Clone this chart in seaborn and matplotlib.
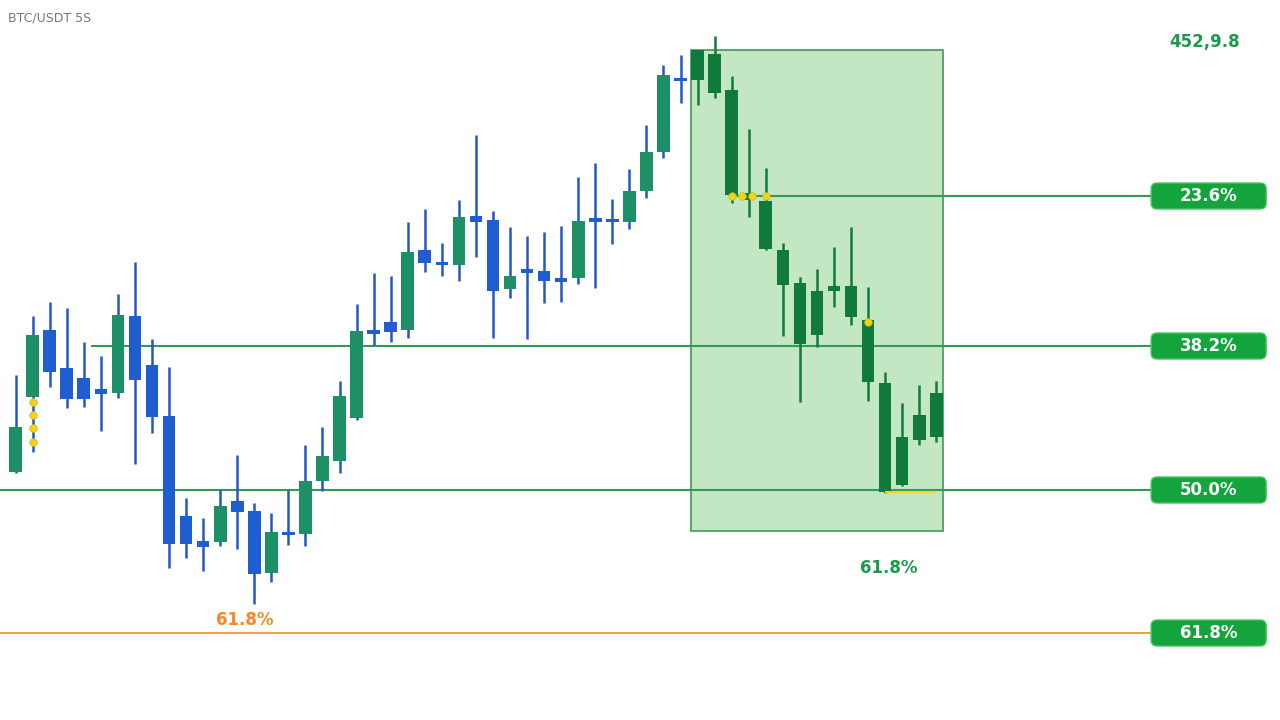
import matplotlib
matplotlib.use("Agg")
import matplotlib.pyplot as plt  # noqa: E402
import numpy as np  # noqa: E402
import pandas as pd  # noqa: E402
import seaborn as sns  # noqa: E402
from matplotlib.patches import FancyBboxPatch, Rectangle  # noqa: E402

# ── candle data (price units) ────────────────────────────────────────────────
OPEN = [248, 323, 390, 352, 342, 331, 327, 404, 355, 304,
        204, 179, 178, 219, 209, 147, 188, 186, 239, 259,
        302, 390, 398, 390, 470, 458, 455, 504, 500, 431,
        451, 449, 442, 442, 502, 501, 498, 529, 568, 642,
        640, 666, 630, 527, 519, 470, 437, 385, 434, 434,
        400, 337, 235, 280, 283]
CLOSE = [293, 385, 348, 321, 321, 326, 405, 340, 303, 176,
         176, 173, 214, 208, 146, 188, 185, 239, 264, 324,
         389, 386, 388, 468, 457, 455, 503, 498, 429, 444,
         447, 439, 438, 499, 498, 498, 529, 568, 645, 639,
         670, 627, 525, 520, 471, 435, 376, 429, 429, 403,
         338, 228, 283, 305, 327]
HIGH = [345, 404, 418, 412, 378, 364, 426, 458, 381, 353,
        222, 202, 230, 265, 217, 207, 230, 275, 293, 339,
        416, 447, 444, 498, 511, 477, 520, 585, 509, 493,
        484, 488, 494, 543, 557, 521, 551, 595, 655, 665,
        670, 684, 644, 591, 552, 477, 443, 451, 473, 493,
        433, 348, 317, 335, 339]
LOW = [247, 268, 333, 312, 313, 289, 322, 256, 287, 152,
       162, 149, 174, 171, 116, 138, 175, 174, 229, 247,
       300, 375, 378, 382, 448, 444, 439, 463, 382, 422,
       381, 417, 418, 436, 432, 476, 491, 522, 562, 617,
       615, 622, 517, 503, 470, 384, 318, 373, 413, 395,
       319, 227, 234, 275, 278]

# retracement levels and their labels
LEVELS = [524, 374, 230, 87]
LEVEL_LABELS = ["23.6%", "38.2%", "50.0%", "61.8%"]
LEVEL_START = [42, 4.4, -1, -1]

# highlighted zone (candle index range, price range)
ZONE_X = [39.6, 54.4]
ZONE_Y = [189, 670]

# yellow touch markers
TOUCH_X = [1, 1, 1, 1, 42, 42.6, 43.2, 44, 50]
TOUCH_Y = [318, 305, 292, 278, 524, 524, 524, 524, 398]
TOUCH_LINE_X = [51, 54]
TOUCH_LINE_Y = 228

UP, DOWN, ZONE_CANDLE = "#1d9165", "#1f5ed1", "#0f7a3a"
WICK = "#2356c8"
LINE, ORANGE, LABEL = "#2f9a5c", "#f0a04a", "#13a43b"

sns.set_theme(style="white")
plt.rcParams["font.family"] = ["DejaVu Sans"]

df = pd.DataFrame({"open": OPEN, "close": CLOSE, "high": HIGH, "low": LOW})
df["x"] = np.arange(len(df))
df["bottom"] = df[["open", "close"]].min(axis=1)
df["body"] = (df["close"] - df["open"]).abs().clip(lower=3)
in_zone = (df["x"] >= ZONE_X[0]) & (df["x"] <= ZONE_X[1])
df["color"] = np.where(in_zone, ZONE_CANDLE,
                       np.where(df["close"] >= df["open"], UP, DOWN))
df["wick"] = np.where(in_zone, ZONE_CANDLE, WICK)

fig = plt.figure(figsize=(12.8, 7.2), dpi=100)
ax = fig.add_axes([0, 0, 1, 1])
xlim = (-0.915, 74.16)
ylim = (0, 720)
ax.set_xlim(*xlim)
ax.set_ylim(*ylim)
ax.axis("off")

# zone box
ax.add_patch(Rectangle((ZONE_X[0], ZONE_Y[0]), ZONE_X[1] - ZONE_X[0],
                       ZONE_Y[1] - ZONE_Y[0], fc="#c3e7c3", ec="#3d9b57",
                       lw=1.2, zorder=1))

# levels
label_x0, label_w = 66.6, 6.75
for lvl, start in zip(LEVELS, LEVEL_START):
    col = ORANGE if lvl == LEVELS[-1] else LINE
    ax.hlines(lvl, start, label_x0, color=col, lw=1.5, zorder=2)

# rounded label boxes, rounding corrected for axis aspect
aspect = ((ylim[1] - ylim[0]) / 720) / ((xlim[1] - xlim[0]) / 1280)
for lvl, txt in zip(LEVELS, LEVEL_LABELS):
    box = FancyBboxPatch((label_x0, lvl - 13), label_w, 26,
                         boxstyle="round,pad=0,rounding_size=0.35",
                         mutation_aspect=aspect, fc=LABEL, ec="#4cc465",
                         lw=1.0, zorder=4)
    ax.add_patch(box)
    ax.text(label_x0 + label_w / 2, lvl, txt, color="white", fontsize=12,
            fontweight="bold", ha="center", va="center", zorder=5)

# candles
ax.vlines(df["x"], df["low"], df["high"], colors=df["wick"], lw=1.8, zorder=3)
ax.bar(df["x"], df["body"], bottom=df["bottom"], width=0.74,
       color=df["color"], lw=0, zorder=3)

# touches
sns.scatterplot(x=TOUCH_X, y=TOUCH_Y, ax=ax, color="#f2d21b", s=30,
                edgecolor="#d4b300", zorder=4, legend=False)
ax.hlines(TOUCH_LINE_Y, TOUCH_LINE_X[0], TOUCH_LINE_X[1], color="#f2d21b",
          lw=1.5, zorder=4)

# texts
fig.text(0.006, 0.975, "BTC/USDT 5S", color="#777777", fontsize=9,
         ha="left", va="center")
fig.text(0.941, 0.942, "452,9.8", color="#1a9a4a", fontsize=12,
         fontweight="bold", ha="center", va="center")
fig.text(0.694, 0.211, "61.8%", color="#1a9a4a", fontsize=12,
         fontweight="bold", ha="center", va="center")
fig.text(0.191, 0.139, "61.8%", color="#f08a2a", fontsize=12,
         fontweight="bold", ha="center", va="center")

fig.savefig("out.png", dpi=100)
